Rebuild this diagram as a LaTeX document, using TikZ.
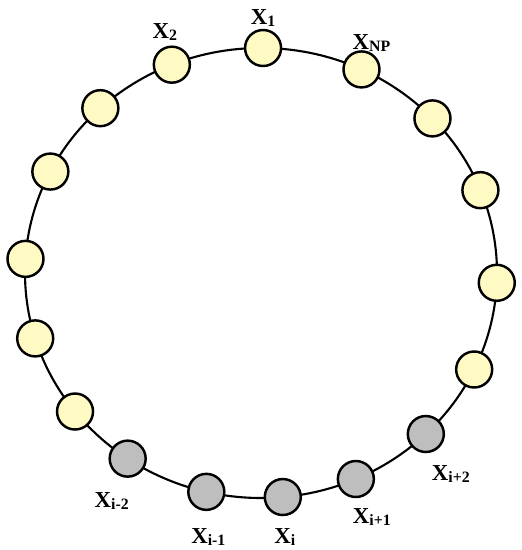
\documentclass[tikz,border=0pt]{standalone}
\usepackage{fontspec}
\setmainfont{Liberation Serif}

\definecolor{ballyellow}{RGB}{255,250,196}
\definecolor{ballgray}{RGB}{190,190,190}
\tikzset{
  yball/.style={circle, draw, fill=ballyellow, line width=1.4pt, minimum size=0.72cm, inner sep=0pt},
  gball/.style={yball, fill=ballgray},
  lbl/.style={font=\bfseries\fontsize{13}{15}\selectfont, inner sep=1pt}
}
\newcommand{\xsub}[1]{X\raisebox{-0.2ex}{\fontsize{9}{10}\selectfont #1}}

\begin{document}
\begin{tikzpicture}[line width=1.2pt]
\useasboundingbox (0,0) rectangle (10.42,11);
% 环的中心和环
\coordinate (O) at (5.22,5.54);
\draw (O) ellipse [x radius=4.72, y radius=4.5];

% 环上的个体
\foreach \name/\ang/\sty in {x1/89.5/yball, xnp/64.8/yball, xa/43.4/yball, xb/21.6/yball,
    xc/-2.5/yball, xd/-25.4/yball, xip2/-45.7/gball, xip1/-66.3/gball, xi/-84.7/gball,
    xim1/-103.4/gball, xim2/-124.4/gball, xe/218/yball, xf/196.9/yball, xg/176.4/yball,
    xh/153.2/yball, xk/132.9/yball, x2/112.2/yball}
  \node[\sty] (\name) at ([shift={(\ang:4.72 and 4.5)}]O) {};

% 标记
\foreach \name/\dx/\dy/\sub in {x1/0/0.6/1, x2/-0.14/0.66/2, xnp/0.2/0.52/NP,
    xim2/-0.32/-0.84/i-2, xim1/0.04/-0.9/i-1, xi/0.04/-0.8/i,
    xip1/0.32/-0.76/i+1, xip2/0.5/-0.8/i+2}
  \node[lbl] (l\name) at ([shift={(\dx,\dy)}]\name) {\xsub{\sub}};
\end{tikzpicture}
\end{document}
